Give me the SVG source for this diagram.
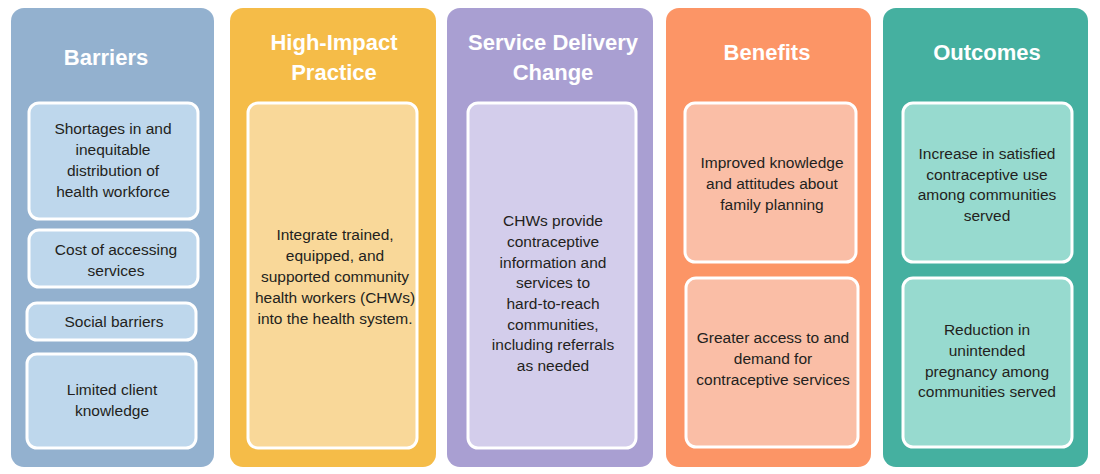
<svg xmlns="http://www.w3.org/2000/svg" width="1100" height="474" viewBox="0 0 1100 474">
<style>
.title{font-family:"Liberation Sans",Arial,sans-serif;font-weight:bold;font-size:22px;fill:#ffffff;text-anchor:middle}
.body{font-family:"Liberation Sans",Arial,sans-serif;font-size:15.5px;fill:#231f20;text-anchor:middle}
.inner{stroke:#ffffff;stroke-width:3}
</style>
<rect width="1100" height="474" fill="#ffffff"/>
<g id="barriers">
<rect x="11" y="8" width="203" height="459" rx="13" fill="#93b1cf"/>
<text class="title" x="106" y="65">Barriers</text>
<rect class="inner" x="29" y="103" width="169" height="116" rx="10" fill="#bed7ec"/>
<text class="body" x="113"><tspan x="113" y="134">Shortages in and</tspan><tspan x="113" y="155">inequitable</tspan><tspan x="113" y="176">distribution of</tspan><tspan x="113" y="197">health workforce</tspan></text>
<rect class="inner" x="29" y="230" width="169" height="57" rx="10" fill="#bed7ec"/>
<text class="body" x="116"><tspan x="116" y="255">Cost of accessing</tspan><tspan x="116" y="276">services</tspan></text>
<rect class="inner" x="27" y="303" width="169" height="37" rx="10" fill="#bed7ec"/>
<text class="body" x="114" y="327">Social barriers</text>
<rect class="inner" x="27" y="354" width="169" height="94" rx="10" fill="#bed7ec"/>
<text class="body" x="112"><tspan x="112" y="395">Limited client</tspan><tspan x="112" y="416">knowledge</tspan></text>
</g>
<g id="high-impact-practice">
<rect x="230" y="8" width="206" height="459" rx="13" fill="#f5bc48"/>
<text class="title" x="334"><tspan x="334" y="50">High-Impact</tspan><tspan x="334" y="80">Practice</tspan></text>
<rect class="inner" x="248" y="103" width="169" height="345" rx="10" fill="#f9d899"/>
<text class="body" x="335"><tspan x="335" y="240">Integrate trained,</tspan><tspan x="335" y="261">equipped, and</tspan><tspan x="335" y="282">supported community</tspan><tspan x="335" y="303">health workers (CHWs)</tspan><tspan x="335" y="324">into the health system.</tspan></text>
</g>
<g id="service-delivery-change">
<rect x="447" y="8" width="206" height="459" rx="13" fill="#a99fd2"/>
<text class="title" x="553"><tspan x="553" y="50">Service Delivery</tspan><tspan x="553" y="80">Change</tspan></text>
<rect class="inner" x="468" y="103" width="168" height="345" rx="10" fill="#d3cdeb"/>
<text class="body" x="553"><tspan x="553" y="226">CHWs provide</tspan><tspan x="553" y="247">contraceptive</tspan><tspan x="553" y="268">information and</tspan><tspan x="553" y="288">services to</tspan><tspan x="553" y="309">hard-to-reach</tspan><tspan x="553" y="330">communities,</tspan><tspan x="553" y="350">including referrals</tspan><tspan x="553" y="371">as needed</tspan></text>
</g>
<g id="benefits">
<rect x="666" y="8" width="205" height="459" rx="13" fill="#fc9566"/>
<text class="title" x="767" y="60">Benefits</text>
<rect class="inner" x="685" y="103" width="171" height="159" rx="10" fill="#fabea6"/>
<text class="body" x="772"><tspan x="772" y="168">Improved knowledge</tspan><tspan x="772" y="189">and attitudes about</tspan><tspan x="772" y="210">family planning</tspan></text>
<rect class="inner" x="686" y="278" width="172" height="169" rx="10" fill="#fabea6"/>
<text class="body" x="773"><tspan x="773" y="343">Greater access to and</tspan><tspan x="773" y="364">demand for</tspan><tspan x="773" y="385">contraceptive services</tspan></text>
</g>
<g id="outcomes">
<rect x="883" y="8" width="205" height="459" rx="13" fill="#45b0a0"/>
<text class="title" x="987" y="60">Outcomes</text>
<rect class="inner" x="903" y="103" width="169" height="159" rx="10" fill="#97dacf"/>
<text class="body" x="987"><tspan x="987" y="159">Increase in satisfied</tspan><tspan x="987" y="180">contraceptive use</tspan><tspan x="987" y="200">among communities</tspan><tspan x="987" y="221">served</tspan></text>
<rect class="inner" x="903" y="278" width="169" height="169" rx="10" fill="#97dacf"/>
<text class="body" x="987"><tspan x="987" y="335">Reduction in</tspan><tspan x="987" y="356">unintended</tspan><tspan x="987" y="377">pregnancy among</tspan><tspan x="987" y="397">communities served</tspan></text>
</g>
<g id="connectors"></g>
</svg>
